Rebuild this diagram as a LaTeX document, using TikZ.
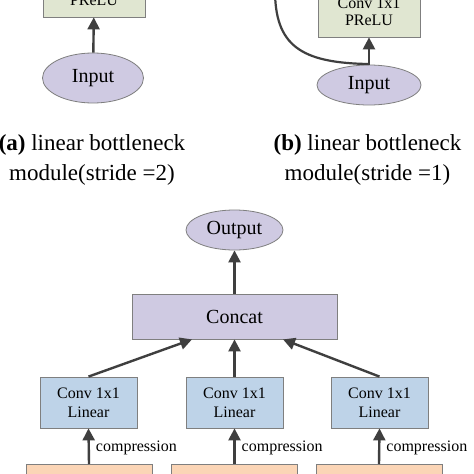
\documentclass[tikz,border=0pt]{standalone}
\usepackage{fontspec}
\setmainfont{Liberation Serif}
\usetikzlibrary{arrows.meta,shapes.geometric}
\definecolor{greenbox}{HTML}{E0E6D1}
\definecolor{lav}{HTML}{CFCAE2}
\definecolor{bluebox}{HTML}{BED3E8}
\definecolor{orangebox}{HTML}{FBD5B6}
\definecolor{edgegray}{HTML}{7F7F7F}
\definecolor{arrowgray}{HTML}{3F3F3F}
\tikzset{
  greenrect/.style={draw=edgegray, line width=0.8pt, fill=greenbox, minimum width=102pt, inner sep=0pt, align=center, font=\fontsize{16}{17.5}\selectfont},
  bluerect/.style={draw=edgegray, line width=0.8pt, fill=bluebox, minimum width=97pt, minimum height=51pt, inner sep=0pt, align=center, font=\fontsize{16}{19}\selectfont},
  orangerect/.style={draw=edgegray, line width=0.8pt, fill=orangebox, minimum width=126pt, minimum height=30pt, inner sep=0pt},
  lavell/.style={ellipse, draw=edgegray, line width=0.8pt, fill=lav, inner sep=0pt, font=\fontsize{20}{22}\selectfont},
  catrect/.style={draw=edgegray, line width=0.8pt, fill=lav, minimum width=205pt, minimum height=45pt, inner sep=0pt, font=\fontsize{20}{22}\selectfont},
  arr/.style={draw=arrowgray, line width=2.4pt, -{Triangle[length=12pt,width=12pt]}},
  lbl/.style={font=\fontsize{16}{18}\selectfont, inner sep=0pt},
  captext/.style={align=center, font=\fontsize{23}{30}\selectfont, inner sep=0pt}
}
\begin{document}
\begin{tikzpicture}[x=1pt,y=-1pt]
\path[use as bounding box] (0,0) rectangle (474,474);
\clip (0,0) rectangle (474,474);
\fill[white] (0,0) rectangle (474,474);
% (a)
\node[greenrect, minimum height=34pt] (pa) at (94,0) {PReLU};
\node[lavell, minimum width=101pt, minimum height=50pt] (ina) at (93,78) {Input};
\draw[arr] (ina) -- (pa);
\node[captext] (capa) at (92,160) {\textbf{(a)} linear bottleneck\\module(stride =2)};
% (b)
\node[greenrect, minimum height=50pt] (pb) at (369,12) {Conv 1x1\\PReLU};
\node[lavell, minimum width=104pt, minimum height=40pt] (inb) at (369,85) {Input};
\coordinate (skiptop) at (275,-10);
\coordinate (skipjoin) at (369,64);
\draw[arr] (inb) -- (pb);
\draw[draw=arrowgray, line width=2.2pt] (skipjoin) .. controls (300,63) and (275,45) .. (skiptop);
\node[captext] (capb) at (367.5,160) {\textbf{(b)} linear bottleneck\\module(stride =1)};
% bottom
\node[lavell, minimum width=97pt, minimum height=40pt] (out) at (234.5,230) {Output};
\node[catrect] (cat) at (234.5,316.5) {Concat};
\draw[arr] (cat) -- (out);
\node[bluerect] (c1) at (88.5,402.5) {Conv 1x1\\Linear};
\node[bluerect] (c2) at (234.5,402.5) {Conv 1x1\\Linear};
\node[bluerect] (c3) at (379.5,402.5) {Conv 1x1\\Linear};
\draw[arr] (c1.north) -- ([xshift=-42.5pt]cat.south);
\draw[arr] (c2.north) -- (cat.south);
\draw[arr] (c3.north) -- ([xshift=48.5pt]cat.south);
\node[orangerect, anchor=north] (o1) at (89,464) {};
\node[orangerect, anchor=north] (o2) at (234.5,464) {};
\node[orangerect, anchor=north] (o3) at (379,464) {};
\draw[arr] (o1.north) -- (c1.south) node[lbl, pos=0.45, anchor=west, xshift=6pt] {compression};
\draw[arr] (o2.north) -- (c2.south) node[lbl, pos=0.45, anchor=west, xshift=6pt] {compression};
\draw[arr] (o3.north) -- (c3.south) node[lbl, pos=0.45, anchor=west, xshift=6pt] {compression};
\end{tikzpicture}
\end{document}
